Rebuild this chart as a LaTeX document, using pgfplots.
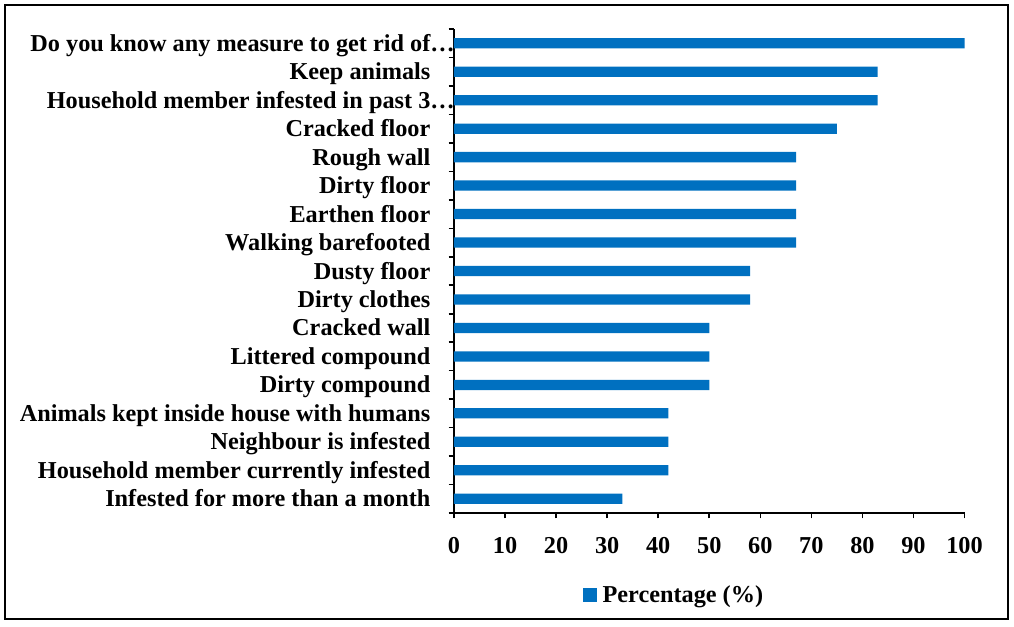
\documentclass[border=0pt]{standalone}
\usepackage{pgfplots}
\pgfplotsset{compat=1.18}
\usepackage{fontspec}
\setmainfont{Liberation Serif}
\definecolor{barblue}{RGB}{0,112,192}
\begin{document}
\begin{tikzpicture}
\useasboundingbox (0pt,0pt) rectangle (760.5pt,-469.5pt);
\draw[line width=1.5pt] (3.75pt,-3.75pt) rectangle (756pt,-464.25pt);
\begin{axis}[
  at={(340.5pt,-384.75pt)}, anchor=south west,
  scale only axis,
  width=382.875pt, height=363pt,
  xbar, bar width=7.7pt,
  xmin=0, xmax=100,
  ymin=-0.5, ymax=16.5,
  xtick={0,10,...,100},
  ytick={0,...,16},
  yticklabels={
    Infested for more than a month,
    Household member currently infested,
    Neighbour is infested,
    Animals kept inside house with humans,
    Dirty compound,
    Littered compound,
    Cracked wall,
    Dirty clothes,
    Dusty floor,
    Walking barefooted,
    Earthen floor,
    Dirty floor,
    Rough wall,
    Cracked floor,
    Household member infested in past 3\rlap{…},
    Keep animals,
    Do you know any measure to get rid of\rlap{…}
  },
  minor ytick={-0.5,0.5,...,16.5},
  tick align=outside,
  ytick style={draw=none},
  minor y tick style={draw=black, line width=1.2pt},
  minor tick length=4pt,
  x tick style={draw=black, line width=1.2pt},
  major tick length=4pt,
  axis x line*=bottom,
  axis y line*=left,
  axis line style={line width=1.4pt},
  x axis line style={-},
  y axis line style={-},
  /pgf/number format/assume math mode=true,
  ticklabel style={font=\bfseries\fontsize{18.2}{20}\selectfont},
  yticklabel style={anchor=base east, inner sep=0pt, xshift=-13.5pt, yshift=-6pt},
  xticklabel style={anchor=base, inner sep=0pt, yshift=-26.5pt},
  legend style={draw=none, fill=none, inner sep=0pt,
    at={(axis description cs:0.2527,-0.1694)}, anchor=west,
    font=\bfseries\fontsize{18.2}{20}\selectfont},
  legend image code/.code={\fill[barblue] (0pt,-5.25pt) rectangle (10.5pt,5.25pt);},
]
\addplot[fill=barblue, draw=none] coordinates {
  (33,0) (42,1) (42,2) (42,3) (50,4) (50,5) (50,6) (58,7) (58,8)
  (67,9) (67,10) (67,11) (67,12) (75,13) (83,14) (83,15) (100,16)
};
\addlegendentry{\hspace{2pt}Percentage (\%)}
\end{axis}
\end{tikzpicture}
\end{document}
